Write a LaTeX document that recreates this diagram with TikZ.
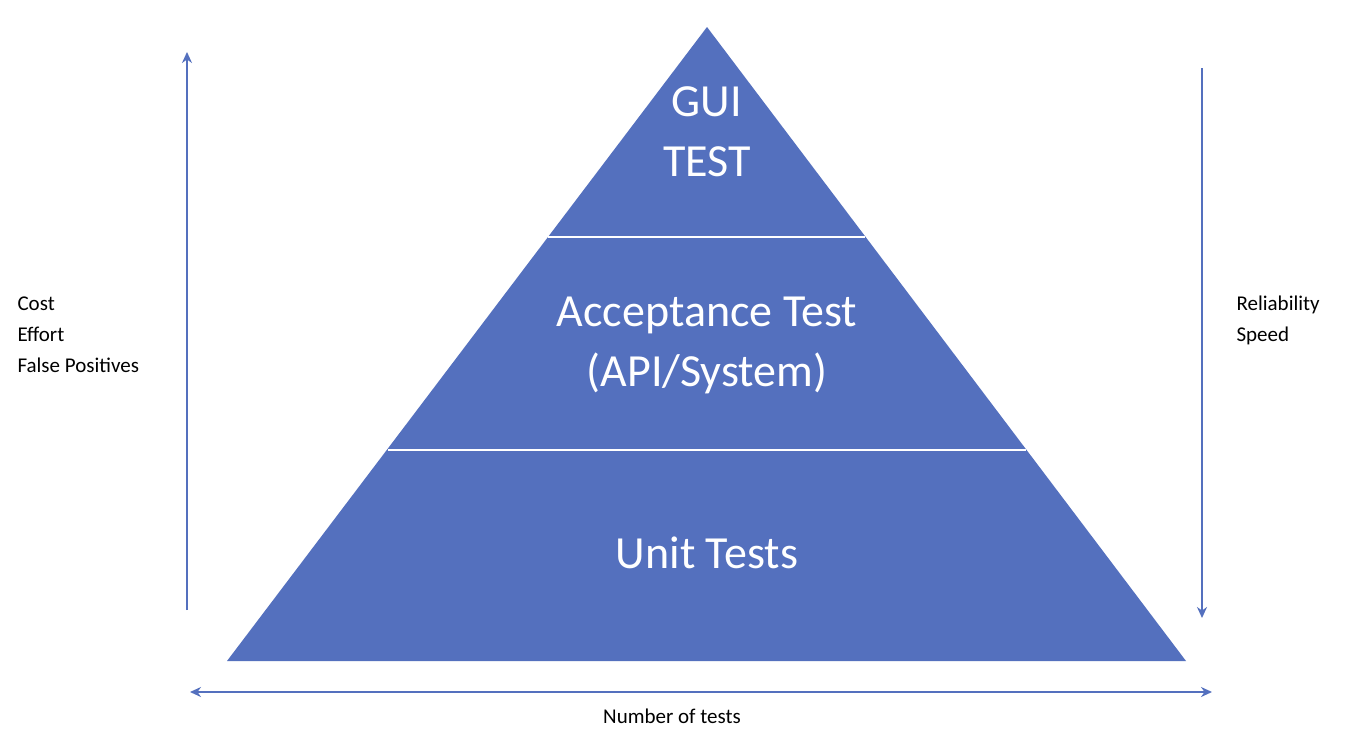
\documentclass[tikz,border=0pt]{standalone}
\usepackage{fontspec}
\setmainfont{Carlito}
\usetikzlibrary{arrows.meta}
\definecolor{pyr}{HTML}{5470BE}
\begin{document}
\begin{tikzpicture}[x=1pt,y=-1pt,
  ax/.style={draw=pyr,line width=2.5pt,-{Stealth[length=11pt,width=10pt]}},
  big/.style={text=white,font=\fontsize{46}{60}\selectfont,align=center},
  small/.style={font=\fontsize{21}{31}\selectfont,align=left,anchor=west}]
\useasboundingbox[fill=white] (0,0) rectangle (1358,739);
\coordinate (apex) at (707,27);
\coordinate (bl) at (227,661);
\coordinate (br) at (1186,661);
\fill[pyr] (apex) -- (bl) -- (br) -- cycle;
\coordinate (l1a) at (548,237); \coordinate (l1b) at (865,237);
\coordinate (l2a) at (388,450); \coordinate (l2b) at (1026,450);
\draw[white,line width=1.2pt] (l1a) -- (l1b);
\draw[white,line width=1.2pt] (l2a) -- (l2b);
\node[big] (gui) at (707,132) {GUI\\TEST};
\node[big] (acc) at (707,345) {Acceptance Test\\(API/System)};
\node[big] (unit) at (707,553) {Unit Tests};
\coordinate (la) at (187,610); \coordinate (lb) at (187,52);
\draw[ax] (la) -- (lb);
\coordinate (ra) at (1202,68); \coordinate (rb) at (1202,618);
\draw[ax] (ra) -- (rb);
\coordinate (ha) at (190,692); \coordinate (hb) at (1212,692);
\draw[ax,{Stealth[length=11pt,width=10pt]}-{Stealth[length=11pt,width=10pt]}] (ha) -- (hb);
\node[small] (lt) at (14,335) {Cost\\Effort\\False Positives};
\node[small] (rt) at (1233,320) {Reliability\\Speed};
\node[font=\fontsize{21}{25}\selectfont] (nt) at (672,716) {Number of tests};
\end{tikzpicture}
\end{document}
